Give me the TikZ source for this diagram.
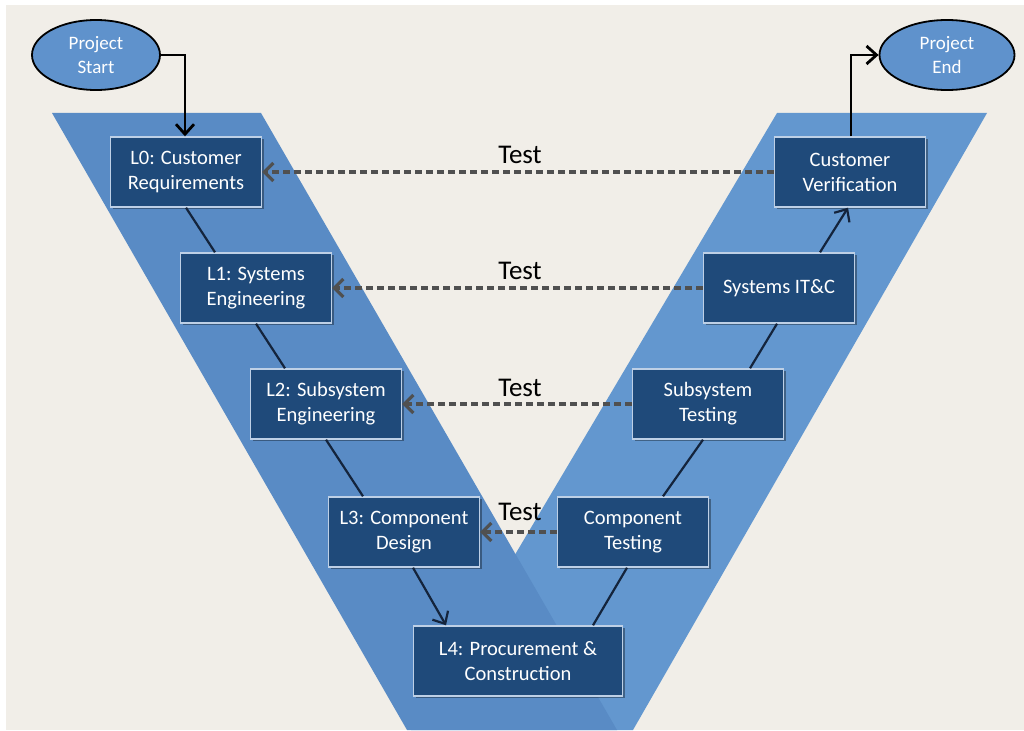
\documentclass[tikz,border=0pt]{standalone}
\usepackage{fontspec}
\setmainfont{Carlito}
\usetikzlibrary{arrows.meta,shapes.geometric,shadows,calc}
\definecolor{bgbeige}{RGB}{241,238,232}
\definecolor{bandL}{RGB}{89,139,197}
\definecolor{bandR}{RGB}{99,151,207}
\definecolor{boxfill}{RGB}{31,74,122}
\definecolor{boxline}{RGB}{190,208,230}
\definecolor{ellfill}{RGB}{95,146,204}
\definecolor{navy}{RGB}{20,36,60}
\definecolor{dashgrey}{RGB}{80,80,80}
\tikzset{
  stagebox/.style={draw=boxline, line width=1.4pt, fill=boxfill, text=white,
    minimum width=151pt, minimum height=70pt, align=center, inner sep=2pt,
    font=\fontsize{20.5}{25}\selectfont,
    drop shadow={shadow xshift=2pt, shadow yshift=-2pt, opacity=0.35, fill=black}},
  endell/.style={ellipse, draw=black, line width=1.8pt, fill=ellfill, text=white,
    align=center, inner sep=0pt, font=\fontsize{19}{24}\selectfont},
  flowarrow/.style={draw=black, line width=2.8pt, -{Straight Barb[length=10pt,width=18pt,line width=2.8pt]}},
  link/.style={draw=navy, line width=2.2pt},
  linkarrow/.style={link, -{Straight Barb[length=10pt,width=18pt,line width=2.2pt]}},
  testarrow/.style={draw=dashgrey, line width=3.2pt, dash pattern=on 7pt off 4pt,
    -{Straight Barb[length=9pt,width=18pt,line width=3.2pt]}},
  testlabel/.style={font=\fontsize{27}{30}\selectfont, text=black, inner sep=0pt}
}
\begin{document}
\begin{tikzpicture}[x=1pt,y=-1pt]
\useasboundingbox (0,0) rectangle (1024,730);
\fill[white] (0,0) rectangle (1024,730);
\fill[bgbeige] (6,5) rectangle (1024,730);
% bands
\fill[bandR] (777,113) -- (987,113) -- (633,730) -- (411,730) -- cycle;
\fill[bandL] (52,113) -- (261,113) -- (617,730) -- (407,730) -- cycle;
% ellipses
\node[endell, minimum width=128pt, minimum height=70pt] (start) at (96,55) {Project\\Start};
\node[endell, minimum width=135pt, minimum height=70pt] (pend) at (947,55) {Project\\End};
% boxes
\node[stagebox] (L0) at (186,172) {L0: Customer\\Requirements};
\node[stagebox] (L1) at (256,288) {L1: Systems\\Engineering};
\node[stagebox] (L2) at (326,404) {L2: Subsystem\\Engineering};
\node[stagebox] (L3) at (404,532) {L3: Component\\Design};
\node[stagebox, minimum width=209pt] (L4) at (518,661) {L4: Procurement \&\\Construction};
\node[stagebox] (CT) at (633,532) {Component\\Testing};
\node[stagebox] (ST) at (708,404) {Subsystem\\Testing};
\node[stagebox] (SIT) at (779,288) {Systems IT\&C};
\node[stagebox] (CV) at (850,172) {Customer\\Verification};
% start / end arrows
\coordinate (sbend) at (185,55);
\draw[flowarrow] (start.east) -- (sbend) -- (sbend |- L0.north);
\coordinate (ebend) at (851,55);
\draw[flowarrow] (CV.north -| ebend) -- (ebend) -- (pend.west);
% left leg links
\draw[link] (L0.south) -- ([xshift=-41pt]L1.north);
\draw[link] (L1.south) -- ([xshift=-41pt]L2.north);
\draw[link] (L2.south) -- ([xshift=-41pt]L3.north);
\draw[linkarrow] ([xshift=9pt]L3.south) -- ([xshift=-72pt]L4.north);
% right leg links
\draw[link] ([xshift=75pt]L4.north) -- ([xshift=-6pt]CT.south);
\draw[link] ([xshift=30pt]CT.north) -- ([xshift=-5pt]ST.south);
\draw[link] ([xshift=42pt]ST.north) -- ([xshift=-2pt]SIT.south);
\draw[linkarrow] ([xshift=41pt]SIT.north) -- ([xshift=-2pt]CV.south);
% test arrows
\draw[testarrow] (CV.west) -- (L0.east);
\draw[testarrow] (SIT.west) -- (L1.east);
\draw[testarrow] (ST.west) -- (L2.east);
\draw[testarrow] (CT.west) -- (L3.east);
\node[testlabel] (t0) at (520,155) {Test};
\node[testlabel] (t1) at (520,271) {Test};
\node[testlabel] (t2) at (520,388) {Test};
\node[testlabel] (t3) at (520,512) {Test};
\end{tikzpicture}
\end{document}
